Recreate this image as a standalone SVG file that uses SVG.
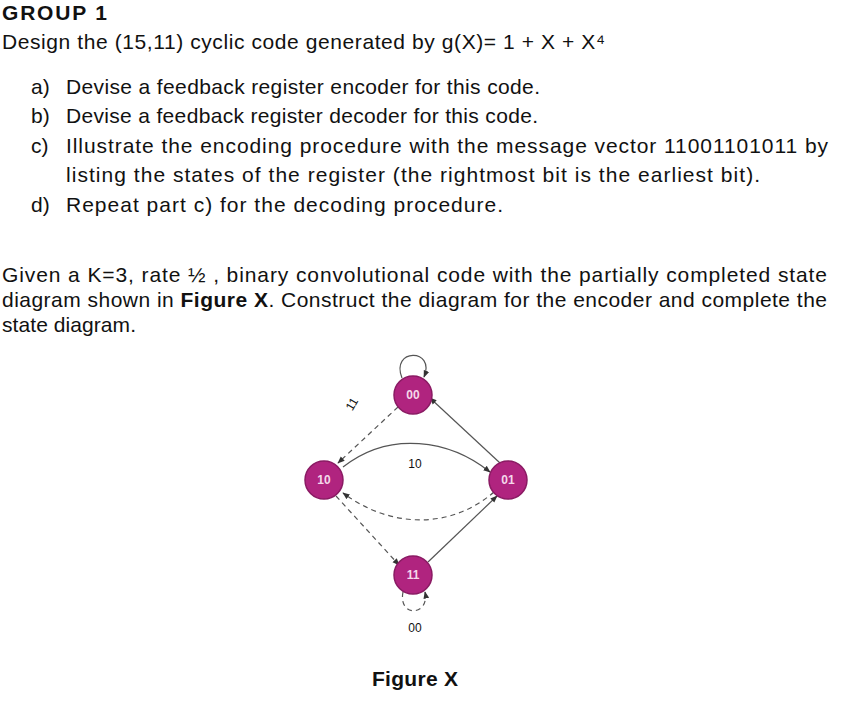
<svg xmlns="http://www.w3.org/2000/svg" width="849" height="708" viewBox="0 0 849 708">
<style>
text{font-family:"Liberation Sans",Arial,sans-serif;font-size:21px;fill:#111}
.n circle{fill:#b0247f;stroke:#8a1a63;stroke-width:1.5}
.n text{fill:#f4d8ea;font-size:12px;text-anchor:middle;font-weight:bold}
.l{font-size:12px;text-anchor:middle}
.s{fill:none;stroke:#555;stroke-width:1.2;marker-end:url(#a)}
.d{stroke-dasharray:5,4}
</style>
<defs><marker id="a" viewBox="0 0 10 10" refX="9" refY="5" markerWidth="6" markerHeight="6" orient="auto"><path d="M0,1L10,5L0,9z" fill="#333"/></marker></defs>
<rect width="849" height="708" fill="#fff"/>
<text x="2" y="20" font-weight="bold" textLength="105">GROUP 1</text>
<text x="2" y="49" textLength="603">Design the (15,11) cyclic code generated by g(X)= 1 + X + X⁴</text>
<text x="31" y="94">a)</text><text x="66" y="94" textLength="474">Devise a feedback register encoder for this code.</text>
<text x="31" y="123">b)</text><text x="66" y="123" textLength="472">Devise a feedback register decoder for this code.</text>
<text x="31" y="153">c)</text><text x="66" y="153" textLength="762">Illustrate the encoding procedure with the message vector 11001101011 by</text>
<text x="66" y="182" textLength="694">listing the states of the register (the rightmost bit is the earliest bit).</text>
<text x="31" y="212">d)</text><text x="66" y="212" textLength="437">Repeat part c) for the decoding procedure.</text>
<text x="2" y="282" textLength="825">Given a K=3, rate ½ , binary convolutional code with the partially completed state</text>
<text x="2" y="307" textLength="825">diagram shown in <tspan font-weight="bold">Figure X</tspan>. Construct the diagram for the encoder and complete the</text>
<text x="2" y="332" textLength="134">state diagram.</text>
<g id="connectors">
<path class="s" d="M402,378 C390,348 436,348 424,377"/>
<path class="s d" d="M398,407 L338,463"/>
<path class="s" d="M343,467 C390,430 450,440 490,472"/>
<path class="s" d="M500,463 L430,398"/>
<path class="s d" d="M494,492 C450,530 390,528 343,493"/>
<path class="s d" d="M336,496 L399,565"/>
<path class="s" d="M428,562 L497,496"/>
<path class="s d" d="M403,592 C398,618 430,616 425,592"/>
</g>
<text class="l" x="352" y="408" transform="rotate(-60 352 404)">11</text>
<text class="l" x="415" y="468">10</text>
<text class="l" x="415" y="632">00</text>
<g id="n00" class="n"><circle cx="413" cy="395" r="19"/><text x="413" y="399">00</text></g>
<g id="n10" class="n"><circle cx="324" cy="480" r="19"/><text x="324" y="484">10</text></g>
<g id="n01" class="n"><circle cx="508" cy="480" r="19"/><text x="508" y="484">01</text></g>
<g id="n11" class="n"><circle cx="413" cy="575" r="19"/><text x="413" y="579">11</text></g>
<text x="415" y="686" text-anchor="middle" font-weight="bold" textLength="86">Figure X</text>
</svg>
